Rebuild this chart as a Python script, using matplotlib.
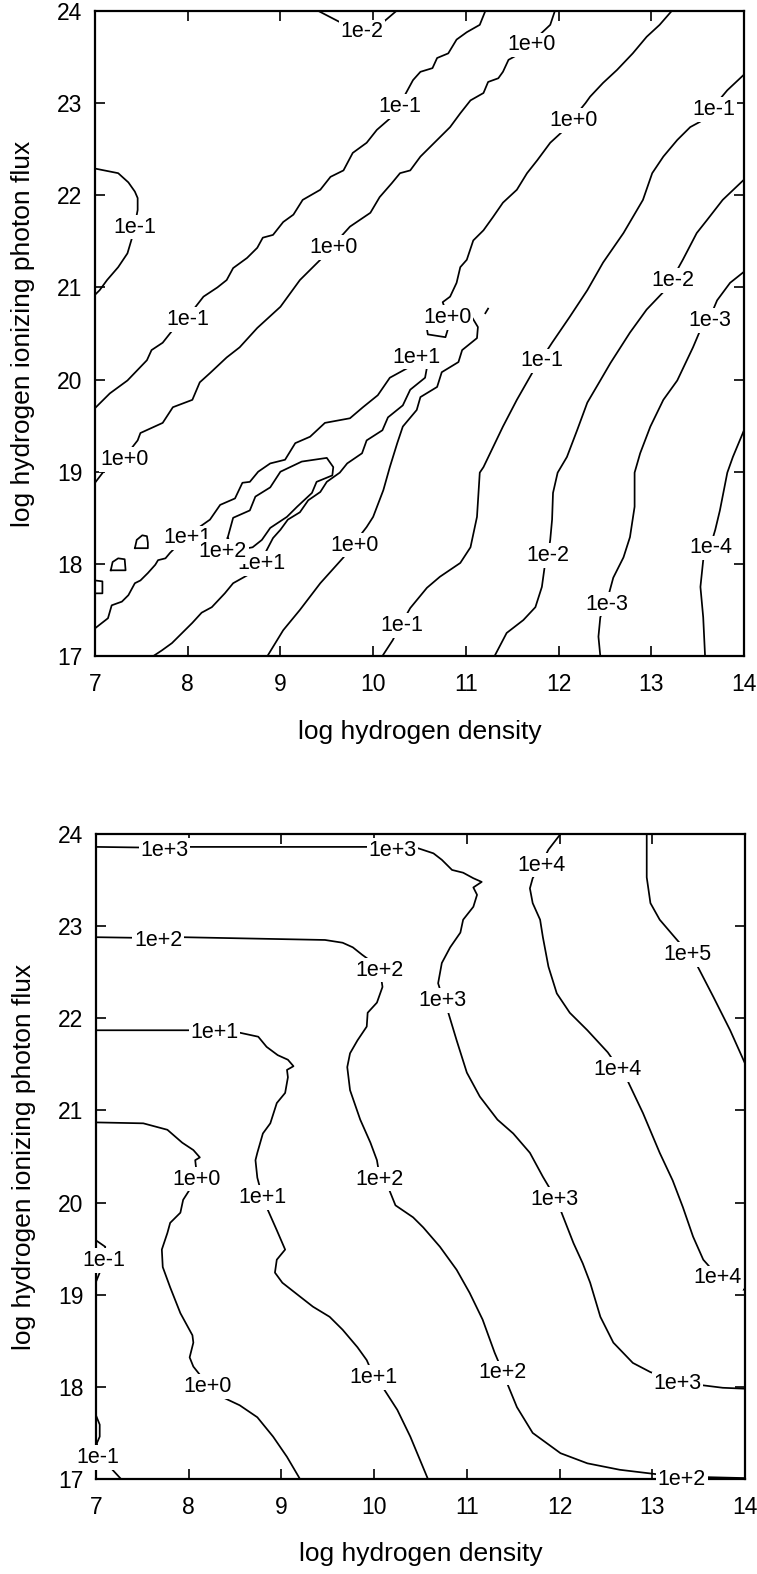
import matplotlib
matplotlib.use("Agg")
import matplotlib.pyplot as plt

plt.rcParams['font.family'] = ['Liberation Sans', 'DejaVu Sans']

# ---------------- data: top panel contour lines (log n_H, log Phi_H) ----------------
top_m2_upper = [(9.41, 24.00), (9.64, 23.88), (9.88, 23.79), (10.11, 23.88), (10.25, 24.00)]
top_m1_corner = [(7.00, 22.29), (7.25, 22.24), (7.36, 22.14), (7.43, 22.04), (7.46, 21.97),
                 (7.46, 21.84), (7.43, 21.68), (7.40, 21.54), (7.35, 21.37), (7.25, 21.22),
                 (7.13, 21.08), (7.05, 20.97), (7.00, 20.92)]
top_m1_diag = [(7.00, 19.69), (7.16, 19.85), (7.35, 19.99), (7.56, 20.21), (7.61, 20.32),
               (7.73, 20.40), (7.84, 20.54), (8.00, 20.68), (8.17, 20.90), (8.32, 21.00),
               (8.42, 21.08), (8.49, 21.21), (8.64, 21.32), (8.75, 21.43), (8.81, 21.54),
               (8.92, 21.57), (9.03, 21.71), (9.14, 21.79), (9.24, 21.95), (9.43, 22.06),
               (9.54, 22.20), (9.68, 22.27), (9.78, 22.46), (9.93, 22.57), (10.04, 22.71),
               (10.20, 22.85), (10.29, 22.99), (10.43, 23.25), (10.51, 23.34), (10.64, 23.38),
               (10.69, 23.49), (10.81, 23.54), (10.90, 23.69), (11.01, 23.77), (11.15, 23.85),
               (11.21, 24.00)]
top_p0_diag = [(7.00, 18.88), (7.16, 19.09), (7.32, 19.16), (7.46, 19.34), (7.49, 19.42),
               (7.73, 19.53), (7.84, 19.70), (8.05, 19.78), (8.13, 19.97), (8.24, 20.07),
               (8.42, 20.24), (8.56, 20.35), (8.75, 20.56), (9.00, 20.79), (9.21, 21.08),
               (9.43, 21.30), (9.57, 21.46), (9.75, 21.66), (9.97, 21.81), (10.07, 21.98),
               (10.20, 22.13), (10.29, 22.24), (10.40, 22.27), (10.51, 22.42), (10.61, 22.52),
               (10.72, 22.63), (10.83, 22.74), (10.94, 22.89), (11.05, 23.03), (11.19, 23.11),
               (11.24, 23.23), (11.35, 23.27), (11.40, 23.34), (11.46, 23.47), (11.55, 23.52),
               (11.71, 23.66), (11.91, 23.85), (11.96, 24.00)]
top_p0_ridge = [(13.22, 24.00), (13.09, 23.85), (12.95, 23.72), (12.80, 23.54), (12.63, 23.36),
                (12.48, 23.22), (12.34, 23.07), (12.29, 23.00), (12.16, 22.84), (12.04, 22.69),
                (11.91, 22.57), (11.77, 22.38), (11.66, 22.24), (11.55, 22.06), (11.40, 21.92),
                (11.29, 21.76), (11.19, 21.62), (11.08, 21.51), (11.01, 21.30), (10.94, 21.22),
                (10.90, 21.05), (10.83, 20.90), (10.75, 20.84), (10.80, 20.70), (11.07, 20.67),
                (11.13, 20.57), (11.12, 20.45), (10.96, 20.32), (10.92, 20.19), (10.74, 20.08),
                (10.69, 19.92), (10.51, 19.81), (10.47, 19.67), (10.32, 19.49), (10.26, 19.31),
                (10.18, 19.05), (10.11, 18.80), (10.00, 18.51), (9.93, 18.40), (9.80, 18.23),
                (9.68, 18.07), (9.43, 17.79), (9.21, 17.50), (9.03, 17.28), (8.86, 17.00)]
top_p1_ridge = [(7.00, 17.30), (7.14, 17.41), (7.18, 17.55), (7.29, 17.59), (7.36, 17.66),
                (7.43, 17.79), (7.49, 17.82), (7.57, 17.90), (7.65, 17.99), (7.68, 18.04),
                (7.76, 18.06), (7.81, 18.12), (7.86, 18.17), (8.00, 18.31), (8.24, 18.48),
                (8.35, 18.64), (8.51, 18.71), (8.59, 18.88), (8.67, 18.89), (8.76, 19.00),
                (8.89, 19.09), (9.05, 19.13), (9.16, 19.31), (9.32, 19.38), (9.48, 19.53),
                (9.75, 19.58), (9.89, 19.70), (10.05, 19.83), (10.18, 20.02), (10.38, 20.13),
                (10.47, 20.27), (10.58, 20.13), (10.56, 20.02), (10.40, 19.89), (10.32, 19.72),
                (10.16, 19.59), (10.10, 19.45), (9.93, 19.34), (9.88, 19.20), (9.72, 19.09),
                (9.64, 18.99), (9.50, 18.89), (9.43, 18.78), (9.30, 18.69), (9.21, 18.56),
                (9.08, 18.48), (9.00, 18.37), (8.92, 18.28), (8.79, 18.03), (8.65, 17.88),
                (8.49, 17.79), (8.40, 17.68), (8.26, 17.53), (8.15, 17.47), (8.05, 17.36),
                (7.94, 17.25), (7.83, 17.14), (7.72, 17.06), (7.63, 17.00)]
top_p2_loop = [(8.43, 18.28), (8.49, 18.50), (8.67, 18.58), (8.73, 18.73), (8.89, 18.83),
               (9.00, 19.00), (9.23, 19.11), (9.50, 19.15), (9.57, 19.05), (9.56, 18.96),
               (9.39, 18.89), (9.34, 18.77), (9.18, 18.62), (9.07, 18.51), (8.89, 18.39),
               (8.80, 18.26), (8.70, 18.18), (8.54, 18.15), (8.43, 18.28)]
top_p1_islet_a = [(7.43, 18.17), (7.45, 18.26), (7.51, 18.31), (7.56, 18.30), (7.57, 18.23),
                  (7.57, 18.17), (7.43, 18.17)]
top_p1_islet_b = [(7.17, 17.93), (7.19, 18.02), (7.25, 18.06), (7.32, 18.05), (7.33, 17.93),
                  (7.17, 17.93)]
top_p1_islet_c = [(7.00, 17.82), (7.08, 17.81), (7.08, 17.68), (7.00, 17.68)]
top_p1_tip = [(10.58, 20.55), (10.59, 20.49), (10.78, 20.46), (10.81, 20.56)]
top_p0_tick = [(11.21, 20.72), (11.24, 20.77)]
top_m1_right = [(10.10, 17.00), (10.21, 17.17), (10.31, 17.36), (10.40, 17.52), (10.58, 17.74),
                (10.72, 17.86), (10.94, 18.01), (11.05, 18.18), (11.12, 18.51), (11.15, 18.99),
                (11.19, 19.05), (11.40, 19.49), (11.55, 19.78), (11.72, 20.08), (11.82, 20.23),
                (11.93, 20.40), (12.12, 20.68), (12.31, 20.97), (12.48, 21.27), (12.70, 21.59),
                (12.91, 21.95), (13.01, 22.24), (13.13, 22.42), (13.28, 22.60), (13.42, 22.74),
                (13.53, 22.80), (13.67, 22.96), (13.82, 23.14), (14.00, 23.31)]
top_m2_right = [(14.00, 22.17), (13.77, 21.95), (13.60, 21.73), (13.49, 21.59), (13.34, 21.30),
                (13.23, 21.10), (13.13, 20.95), (12.95, 20.76), (12.77, 20.51), (12.70, 20.40),
                (12.56, 20.18), (12.45, 19.99), (12.31, 19.75), (12.20, 19.45), (12.09, 19.16),
                (11.99, 18.99), (11.94, 18.77), (11.93, 18.48), (11.91, 18.26), (11.89, 18.12),
                (11.85, 17.97), (11.82, 17.75), (11.75, 17.53), (11.62, 17.39), (11.44, 17.25),
                (11.31, 17.00)]
top_m3 = [(14.00, 21.17), (13.85, 21.05), (13.71, 20.86), (13.63, 20.67), (13.53, 20.54),
          (13.45, 20.35), (13.28, 19.99), (13.13, 19.78), (12.99, 19.49), (12.88, 19.20),
          (12.82, 18.99), (12.82, 18.62), (12.77, 18.29), (12.70, 18.07), (12.59, 17.85),
          (12.52, 17.59), (12.45, 17.42), (12.43, 17.21), (12.45, 17.00)]
top_m4 = [(14.00, 19.45), (13.88, 19.16), (13.82, 18.99), (13.74, 18.58), (13.69, 18.37),
          (13.64, 18.20), (13.56, 18.04), (13.53, 17.75), (13.56, 17.42), (13.58, 17.00)]

top_labels = [("1e-2", 9.88, 23.80), ("1e-1", 7.43, 21.68),
              ("1e-1", 8.00, 20.68), ("1e-1", 10.29, 22.99),
              ("1e+0", 7.32, 19.16), ("1e+0", 9.57, 21.46), ("1e+0", 11.71, 23.66),
              ("1e+0", 12.16, 22.84), ("1e+0", 10.80, 20.70), ("1e+0", 9.80, 18.23),
              ("1e+1", 8.00, 18.31), ("1e+1", 10.47, 20.27), ("1e+1", 8.79, 18.03),
              ("1e+2", 8.38, 18.16),
              ("1e-1", 10.31, 17.36), ("1e-1", 11.82, 20.23), ("1e-1", 13.67, 22.96),
              ("1e-2", 13.23, 21.10), ("1e-2", 11.89, 18.12),
              ("1e-3", 13.63, 20.67), ("1e-3", 12.52, 17.59), ("1e-4", 13.64, 18.20)]

# ---------------- data: bottom panel contour lines ----------------
bot_p3 = [(7.00, 23.86), (7.74, 23.85), (7.99, 23.86), (9.92, 23.86), (10.20, 23.85),
          (10.46, 23.85), (10.64, 23.79), (10.73, 23.72), (10.84, 23.61), (10.96, 23.58),
          (11.07, 23.52), (11.16, 23.48), (11.07, 23.42), (11.11, 23.34), (11.07, 23.21),
          (10.96, 23.07), (10.93, 22.93), (10.82, 22.77), (10.73, 22.60), (10.69, 22.38),
          (10.74, 22.22), (10.80, 22.06), (10.89, 21.76), (11.00, 21.41), (11.14, 21.15),
          (11.33, 20.90), (11.50, 20.75), (11.68, 20.54), (11.82, 20.28), (11.95, 20.06),
          (12.01, 19.92), (12.15, 19.56), (12.25, 19.34), (12.33, 19.13), (12.44, 18.76),
          (12.58, 18.48), (12.79, 18.26), (12.98, 18.16), (13.27, 18.06), (13.52, 18.02),
          (13.76, 17.99), (14.00, 17.98)]
bot_p2 = [(7.00, 22.88), (7.67, 22.87), (7.93, 22.88), (9.47, 22.85), (9.66, 22.82),
          (9.77, 22.77), (9.87, 22.69), (10.06, 22.55), (10.09, 22.34), (10.03, 22.17),
          (9.93, 22.06), (9.92, 21.91), (9.82, 21.76), (9.74, 21.62), (9.71, 21.47),
          (9.74, 21.22), (9.85, 20.90), (9.96, 20.65), (10.03, 20.46), (10.06, 20.28),
          (10.15, 20.17), (10.23, 19.97), (10.42, 19.84), (10.53, 19.73), (10.71, 19.52),
          (10.89, 19.27), (11.03, 19.02), (11.17, 18.73), (11.30, 18.37), (11.38, 18.18),
          (11.43, 18.05), (11.54, 17.78), (11.71, 17.50), (12.01, 17.28), (12.30, 17.17),
          (12.65, 17.10), (12.98, 17.06), (13.32, 17.02), (13.59, 17.02), (14.00, 17.01)]
bot_p1 = [(7.00, 21.87), (8.28, 21.87), (8.52, 21.85), (8.75, 21.80), (8.84, 21.69),
          (8.96, 21.60), (9.07, 21.55), (9.13, 21.48), (9.06, 21.44), (9.07, 21.36),
          (9.04, 21.19), (8.95, 21.08), (8.88, 20.86), (8.80, 20.75), (8.74, 20.54),
          (8.72, 20.46), (8.74, 20.27), (8.79, 20.08), (8.84, 19.95), (8.95, 19.70),
          (9.04, 19.49), (8.95, 19.38), (8.93, 19.24), (9.01, 19.13), (9.20, 18.98),
          (9.34, 18.87), (9.52, 18.76), (9.66, 18.62), (9.82, 18.43), (9.92, 18.29),
          (9.99, 18.13), (10.09, 18.00), (10.25, 17.75), (10.39, 17.46), (10.58, 17.00)]
bot_p0 = [(7.00, 20.87), (7.51, 20.86), (7.77, 20.79), (7.93, 20.65), (8.05, 20.57),
          (8.12, 20.49), (8.07, 20.46), (8.09, 20.28), (8.01, 20.14), (7.94, 20.03),
          (7.91, 19.89), (7.80, 19.78), (7.77, 19.67), (7.71, 19.49), (7.72, 19.30),
          (7.80, 19.08), (7.91, 18.80), (8.04, 18.56), (8.05, 18.48), (8.01, 18.32),
          (8.05, 18.22), (8.20, 18.03), (8.36, 17.89), (8.55, 17.80), (8.74, 17.67),
          (8.91, 17.46), (9.06, 17.24), (9.20, 17.00)]
bot_m1_upper = [(7.00, 19.59), (7.10, 19.52), (7.08, 19.40), (7.04, 19.24), (7.00, 19.14)]
bot_m1_lower = [(7.00, 17.69), (7.04, 17.59), (7.04, 17.46), (7.01, 17.39), (7.02, 17.26),
                (7.15, 17.13), (7.27, 17.00)]
bot_p4 = [(12.01, 24.00), (11.88, 23.83), (11.81, 23.69), (11.71, 23.52), (11.68, 23.41),
          (11.71, 23.25), (11.79, 23.07), (11.82, 22.88), (11.88, 22.56), (11.97, 22.27),
          (12.11, 22.06), (12.30, 21.87), (12.52, 21.63), (12.63, 21.47), (12.73, 21.33),
          (12.90, 20.97), (13.08, 20.54), (13.22, 20.24), (13.33, 19.95), (13.44, 19.63),
          (13.55, 19.38), (13.70, 19.21), (13.91, 19.08), (14.00, 19.05)]
bot_p5 = [(12.94, 24.00), (12.94, 23.53), (12.98, 23.25), (13.08, 23.07), (13.25, 22.87),
          (13.38, 22.72), (13.48, 22.58), (13.66, 22.23), (13.84, 21.87), (14.00, 21.51)]

bot_labels = [("1e+3", 7.74, 23.85), ("1e+3", 10.20, 23.85), ("1e+3", 10.74, 22.22),
              ("1e+3", 11.95, 20.06), ("1e+3", 13.27, 18.06),
              ("1e+2", 7.67, 22.87), ("1e+2", 10.06, 22.55), ("1e+2", 10.06, 20.28),
              ("1e+2", 11.38, 18.18), ("1e+2", 13.32, 17.02),
              ("1e+1", 8.28, 21.87), ("1e+1", 8.79, 20.08), ("1e+1", 9.99, 18.13),
              ("1e+0", 8.09, 20.28), ("1e+0", 8.20, 18.03),
              ("1e-1", 7.08, 19.40), ("1e-1", 7.02, 17.26),
              ("1e+4", 11.81, 23.69), ("1e+4", 12.63, 21.47), ("1e+4", 13.70, 19.21),
              ("1e+5", 13.38, 22.72)]

x_ticks = [7, 8, 9, 10, 11, 12, 13, 14]
y_ticks = [17, 18, 19, 20, 21, 22, 23, 24]
x_label = "log hydrogen density"
y_label = "log hydrogen ionizing photon flux"

top_lines = [top_m2_upper, top_m1_corner, top_m1_diag, top_p0_diag, top_p0_ridge,
             top_p1_ridge, top_p2_loop, top_p1_islet_a, top_p1_islet_b, top_p1_islet_c,
             top_p1_tip, top_p0_tick, top_m1_right, top_m2_right, top_m3, top_m4]
bot_lines = [bot_p3, bot_p2, bot_p1, bot_p0, bot_m1_upper, bot_m1_lower, bot_p4, bot_p5]

# ---------------- figure ----------------
W, H = 757, 1574
fig = plt.figure(figsize=(W / 100, H / 100), dpi=100)
ax_top = fig.add_axes([95 / W, 1 - 656 / H, 649 / W, 645 / H])
ax_bot = fig.add_axes([96 / W, 1 - 1479 / H, 649 / W, 645 / H])


def draw_panel(ax, lines, labels, xlabel_y):
    for pts in lines:
        xs, ys = zip(*pts)
        ax.plot(xs, ys, color='black', lw=1.25, solid_joinstyle='round', zorder=2)
    for txt, x, y in labels:
        ax.text(x, y, txt, ha='center', va='center_baseline', fontsize=15.5,
                color='black', zorder=4, clip_on=False,
                bbox=dict(boxstyle='square,pad=0.08', fc='white', ec='none'))
    ax.set_xlim(7, 14)
    ax.set_ylim(17, 24)
    ax.set_xticks(x_ticks)
    ax.set_yticks(y_ticks)
    ax.tick_params(direction='in', length=7, width=1.2, top=True, right=True,
                   labelsize=16.5, colors='black')
    ax.tick_params(axis='x', pad=12)
    ax.tick_params(axis='y', pad=9)
    for sp in ax.spines.values():
        sp.set_linewidth(1.6)
        sp.set_zorder(3)
    ax.set_xlabel(x_label, fontsize=19)
    ax.xaxis.label.set_verticalalignment('baseline')
    ax.xaxis.set_label_coords(0.5, xlabel_y)
    ax.set_ylabel(y_label, fontsize=19)
    ax.yaxis.set_label_coords(-0.092, 0.5)


draw_panel(ax_top, top_lines, top_labels, -0.128)
draw_panel(ax_bot, bot_lines, bot_labels, -0.127)

fig.savefig('out.png', dpi=100)
